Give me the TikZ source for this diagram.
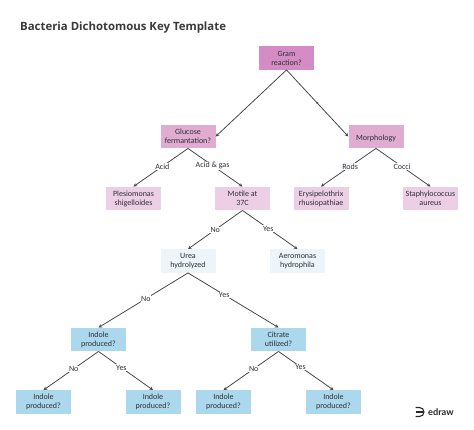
\documentclass[tikz,border=0pt]{standalone}
\usepackage{fontspec}
\setmainfont{Carlito}
\newfontfamily\titlefont{Open Sans}
\newfontfamily\logofont{Lato}
\usetikzlibrary{arrows.meta,positioning}
\definecolor{ink}{HTML}{2E2E3A}
\definecolor{edgec}{HTML}{484848}
\definecolor{titlec}{HTML}{3A3A3A}
\definecolor{rootc}{HTML}{D58CC4}
\definecolor{pinkb}{HTML}{E0ADD1}
\definecolor{pinkc}{HTML}{ECCFE4}
\definecolor{palec}{HTML}{EDF5FA}
\definecolor{bluec}{HTML}{ABD8EC}

\begin{document}
\begin{tikzpicture}[
  x=1pt, y=-1pt, on grid,
  font=\fontsize{8}{8.9}\selectfont, text=ink, >={Stealth[length=3.6pt,width=3.6pt]},
  box/.style={fill=#1, align=center, inner sep=0pt, minimum width=55pt, minimum height=23.5pt, execute at begin node={\rule{0pt}{9.5pt}}},
  flow/.style={->, draw=edgec, line width=0.8pt},
  lab/.style={fill=white, inner sep=0.6pt},
  tick/.style={circle, fill=edgec, inner sep=0pt, minimum size=2.2pt}
]
\useasboundingbox (0,0) rectangle (474,430);

% ---- title
\node[anchor=west, inner sep=0pt, font=\titlefont\fontsize{11.4}{13}\selectfont\bfseries, text=titlec] (title) at (20,28) {Bacteria Dichotomous Key Template};

% ---- top levels
\node[box=rootc] (gram) at (286.5,58) {Gram\\reaction?};
\node[box=pinkb, below left=78.5pt and 98.5pt of gram] (glucose) {Glucose\\fermantation?};
\node[box=pinkb, below right=78.5pt and 89.5pt of gram] (morph) {Morphology};
\node[box=pinkc, below left=62pt and 54.5pt of glucose] (plesio) {Plesiomonas\\shigelloides};
\node[box=pinkc, below right=62pt and 54.5pt of glucose] (motile) {Motile at\\37C};
\node[box=pinkc, below left=62pt and 55pt of morph] (erysi) {Erysipelothrix\\rhusiopathiae};
\node[box=pinkc, below right=62pt and 54.5pt of morph] (staph) {Staphylococcus\\aureus};

% ---- middle
\node[box=palec, below left=62.5pt and 54.5pt of motile] (urea) {Urea\\hydrolyzed};
\node[box=palec, below right=62.5pt and 55pt of motile] (aero) {Aeromonas\\hydrophila};
\node[box=bluec, below left=78.5pt and 89.5pt of urea] (indole) {Indole\\produced?};
\node[box=bluec, below right=78.5pt and 90.5pt of urea] (citrate) {Citrate\\utilized?};

% ---- bottom row
\node[box=bluec, below left=62.5pt and 55pt of indole] (leafa) {Indole\\produced?};
\node[box=bluec, below right=62.5pt and 54.5pt of indole] (leafb) {Indole\\produced?};
\node[box=bluec, below left=62.5pt and 55pt of citrate] (leafc) {Indole\\produced?};
\node[box=bluec, below right=62.5pt and 55pt of citrate] (leafd) {Indole\\produced?};

% ---- connectors
\draw[flow] (gram.south) -- (glucose.east);
\draw[flow] (gram.south) -- node[tick, midway] (gramtick) {} (morph.west);
\foreach \a/\b/\t/\p in {glucose/plesio/Acid/0.47, glucose/motile/Acid \& gas/0.45, morph/erysi/Rods/0.47, morph/staph/Cocci/0.48,
    motile/urea/No/0.5, motile/aero/Yes/0.47, urea/indole/No/0.47, urea/citrate/Yes/0.4,
    indole/leafa/No/0.45, indole/leafb/Yes/0.42, citrate/leafc/No/0.45, citrate/leafd/Yes/0.4}
  \draw[flow] (\a.south) -- node[lab, pos=\p] {\t} (\b.north);

% ---- logo
\node[anchor=west, inner sep=0pt, font=\logofont\fontsize{9.2}{10}\selectfont\bfseries, text=black!85] (logo) at (428,412) {edraw};
\draw[line width=1.1pt, black!85] (415.5,407.5) -- (419.5,407.5) arc[start angle=90, end angle=-90, radius=4.5pt] -- (415.5,416.5);
\draw[line width=1.1pt, black!85] (415.5,412) -- (423,412);
\end{tikzpicture}
\end{document}
